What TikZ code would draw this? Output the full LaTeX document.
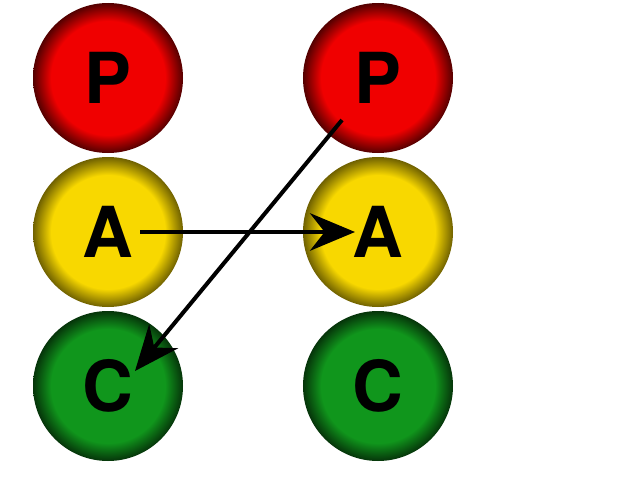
\documentclass[tikz,border=0pt]{standalone}
\usepackage{fontspec}
\setmainfont{TeX Gyre Heros}
\usepackage{tikz}
\usetikzlibrary{arrows.meta,matrix}
\definecolor{pred}{RGB}{240,0,0}
\definecolor{ayellow}{RGB}{248,216,0}
\definecolor{cgreen}{RGB}{16,150,28}
\pgfdeclareradialshading{redball}{\pgfpoint{0cm}{0cm}}{color(0bp)=(pred); color(19bp)=(pred); color(25bp)=(pred!35!black); color(50bp)=(pred!35!black)}
\pgfdeclareradialshading{yellowball}{\pgfpoint{0cm}{0cm}}{color(0bp)=(ayellow); color(19bp)=(ayellow); color(25bp)=(ayellow!45!black); color(50bp)=(ayellow!45!black)}
\pgfdeclareradialshading{greenball}{\pgfpoint{0cm}{0cm}}{color(0bp)=(cgreen); color(19bp)=(cgreen); color(25bp)=(cgreen!35!black); color(50bp)=(cgreen!35!black)}

\begin{document}
\begin{tikzpicture}[ball/.style={circle,minimum size=3cm,inner sep=0pt,font=\fontsize{40}{40}\selectfont\bfseries},
p/.style={ball,shading=redball}, a/.style={ball,shading=yellowball}, c/.style={ball,shading=greenball}]
\useasboundingbox (0,0) rectangle (12.76,-9.56);
\matrix (m)[matrix of nodes, column sep=2.4cm,row sep=0.08cm, nodes={anchor=center}] at (4.86,-4.64) {
|[p]| P & |[p]| P \\
|[a]| A & |[a]| A \\
|[c]| C & |[c]| C \\
};

\draw[line width=2.3pt,-{Stealth[length=0.9cm,width=0.75cm]}] ([shift={(-0.72,-0.84)}]m-1-2.center)--([shift={(0.54,0.3)}]m-3-1.center);
\draw[line width=2.3pt,-{Stealth[length=0.9cm,width=0.75cm]}] ([shift={(0.64,0)}]m-2-1.center)--([shift={(-0.46,0)}]m-2-2.center);
\end{tikzpicture}
\end{document}
